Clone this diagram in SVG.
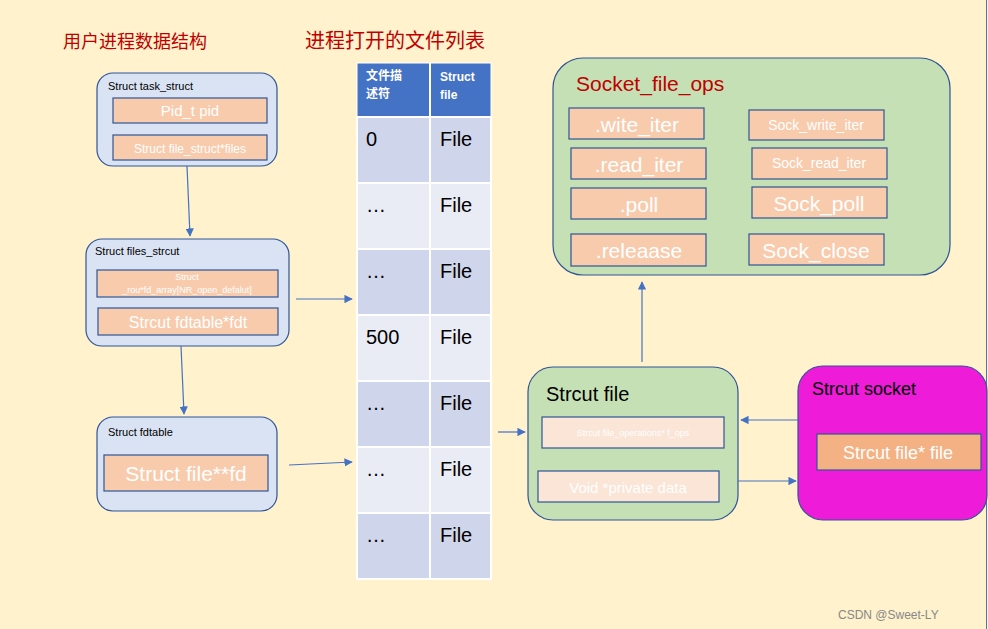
<svg xmlns="http://www.w3.org/2000/svg" width="988" height="629" viewBox="0 0 988 629">
<defs>
<marker id="a" viewBox="0 0 10 10" refX="9" refY="5" markerWidth="7" markerHeight="7" orient="auto"><path d="M0,0L10,5L0,10z" fill="#4472c4"/></marker>
<style>
text{font-family:"Liberation Sans","Noto Sans CJK SC",sans-serif}
.blue{fill:#dae3f3;stroke:#2f5597;stroke-width:1.2}
.or{fill:#f8cbad;stroke:#2f5597;stroke-width:1.2}
.lo{fill:#fbe5d6;stroke:#2f5597;stroke-width:1.2}
.gr{fill:#c5e0b4;stroke:#2f5597;stroke-width:1.2}
.w{fill:#fff}
.k{fill:#000}
.r{fill:#c00000}
.c{stroke:#4472c4;stroke-width:1.2;fill:none;marker-end:url(#a)}
</style>
</defs>
<rect width="988" height="629" fill="#fff2cc"/>
<line x1="986.5" y1="0" x2="986.5" y2="629" stroke="#4472c4"/>
<text x="63" y="48" class="r" font-size="18">用户进程数据结构</text>
<text x="305" y="48" class="r" font-size="20">进程打开的文件列表</text>
<g id="task">
<rect x="97" y="73" width="180" height="93" rx="16" class="blue"/>
<text x="108" y="90" font-size="11" class="k">Struct task_struct</text>
<rect x="113" y="98" width="154" height="25" class="or"/>
<text x="190" y="116" font-size="15" class="w" text-anchor="middle">Pid_t pid</text>
<rect x="113" y="135" width="154" height="25" class="or"/>
<text x="190" y="153" font-size="12" class="w" text-anchor="middle">Struct file_struct*files</text>
</g>
<g id="files">
<rect x="86" y="239" width="203" height="107" rx="16" class="blue"/>
<text x="95" y="255" font-size="11" class="k">Struct files_strcut</text>
<rect x="97" y="270" width="181" height="27" class="or"/>
<text x="187" y="280" font-size="9" class="w" text-anchor="middle">Struct</text>
<text x="187" y="293" font-size="9" class="w" text-anchor="middle">_rou*fd_array[NR_open_defalut]</text>
<rect x="98" y="308" width="180" height="27" class="or"/>
<text x="188" y="328" font-size="16" class="w" text-anchor="middle">Strcut fdtable*fdt</text>
</g>
<g id="fdtable">
<rect x="97" y="417" width="180" height="94" rx="16" class="blue"/>
<text x="108" y="436" font-size="11" class="k">Struct fdtable</text>
<rect x="104" y="455" width="164" height="36" class="or"/>
<text x="186" y="481" font-size="21" class="w" text-anchor="middle">Struct file**fd</text>
</g>
<g id="table">
<rect x="357" y="63" width="134" height="54" fill="#4472c4" stroke="#fff"/>
<line x1="430" y1="63" x2="430" y2="117" stroke="#fff" stroke-width="2"/>
<text x="366" y="80" font-size="12" font-weight="bold" class="w">文件描</text>
<text x="366" y="98" font-size="12" font-weight="bold" class="w">述符</text>
<text x="440" y="81" font-size="12" font-weight="bold" class="w">Struct</text>
<text x="440" y="99" font-size="12" font-weight="bold" class="w">file</text>
<g stroke="#fff" stroke-width="2">
<rect x="357" y="117" width="134" height="66" fill="#cfd5ea"/>
<rect x="357" y="183" width="134" height="66" fill="#e9ebf5"/>
<rect x="357" y="249" width="134" height="66" fill="#cfd5ea"/>
<rect x="357" y="315" width="134" height="66" fill="#e9ebf5"/>
<rect x="357" y="381" width="134" height="66" fill="#cfd5ea"/>
<rect x="357" y="447" width="134" height="66" fill="#e9ebf5"/>
<rect x="357" y="513" width="134" height="66" fill="#cfd5ea"/>
<line x1="430" y1="117" x2="430" y2="579"/>
</g>
<g font-size="20" class="k">
<text x="366" y="146">0</text><text x="440" y="146">File</text>
<text x="366" y="212">…</text><text x="440" y="212">File</text>
<text x="366" y="278">…</text><text x="440" y="278">File</text>
<text x="366" y="344">500</text><text x="440" y="344">File</text>
<text x="366" y="410">…</text><text x="440" y="410">File</text>
<text x="366" y="476">…</text><text x="440" y="476">File</text>
<text x="366" y="542">…</text><text x="440" y="542">File</text>
</g>
</g>
<g id="ops">
<rect x="553" y="58" width="397" height="217" rx="30" class="gr"/>
<text x="576" y="91" font-size="21" class="r">Socket_file_ops</text>
<rect x="569" y="108" width="135" height="31" class="or"/><text x="637" y="132" font-size="21" class="w" text-anchor="middle">.wite_iter</text>
<rect x="571" y="148" width="135" height="31" class="or"/><text x="639" y="172" font-size="21" class="w" text-anchor="middle">.read_iter</text>
<rect x="571" y="188" width="135" height="31" class="or"/><text x="639" y="212" font-size="21" class="w" text-anchor="middle">.poll</text>
<rect x="571" y="234" width="135" height="32" class="or"/><text x="639" y="258" font-size="21" class="w" text-anchor="middle">.releaase</text>
<rect x="749" y="110" width="135" height="30" class="or"/><text x="816" y="130" font-size="14" class="w" text-anchor="middle">Sock_write_iter</text>
<rect x="752" y="148" width="135" height="31" class="or"/><text x="819" y="168" font-size="14" class="w" text-anchor="middle">Sock_read_iter</text>
<rect x="752" y="187" width="135" height="31" class="or"/><text x="819" y="211" font-size="21" class="w" text-anchor="middle">Sock_poll</text>
<rect x="749" y="234" width="135" height="31" class="or"/><text x="816" y="258" font-size="21" class="w" text-anchor="middle">Sock_close</text>
</g>
<g id="file">
<rect x="528" y="367" width="210" height="153" rx="25" class="gr"/>
<text x="546" y="401" font-size="20" class="k">Strcut file</text>
<rect x="542" y="417" width="182" height="31" class="lo"/>
<text x="633" y="436" font-size="9" class="w" text-anchor="middle">Strcut file_operations* f_ops</text>
<rect x="538" y="471" width="181" height="31" class="lo"/>
<text x="628" y="493" font-size="15" class="w" text-anchor="middle">Void *private data</text>
</g>
<g id="socket">
<rect x="798" y="366" width="189" height="154" rx="25" fill="#ee1bd8" stroke="#2f5597" stroke-width="1.2"/>
<text x="812" y="395" font-size="18" class="k">Strcut socket</text>
<rect x="817" y="434" width="164" height="36" fill="#f4b183" stroke="#2f5597" stroke-width="1.2"/>
<text x="898" y="459" font-size="18" class="w" text-anchor="middle">Strcut file* file</text>
</g>
<g id="connectors">
<path class="c" d="M187,166L190,236"/>
<path class="c" d="M181,346L184,414"/>
<path class="c" d="M296,299L352,299"/>
<path class="c" d="M289,465L352,462"/>
<path class="c" d="M498,432L525,432"/>
<path class="c" d="M642,362L642,282"/>
<path class="c" d="M798,420L741,420"/>
<path class="c" d="M738,481L796,481"/>
</g>
<text x="838" y="619" font-size="12" fill="#888">CSDN @Sweet-LY</text>
</svg>
